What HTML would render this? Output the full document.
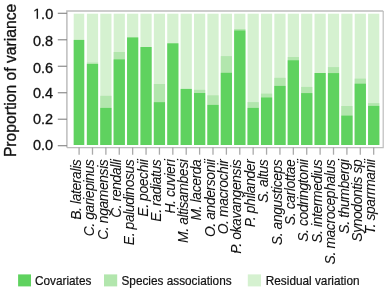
<!DOCTYPE html><html><head><meta charset="utf-8"><style>html,body{margin:0;padding:0;background:#fff;width:387px;height:292px;overflow:hidden}svg{display:block;filter:blur(0.35px)}text{font-family:"Liberation Sans",sans-serif;fill:#111;stroke:#111;stroke-width:0.3px}.xl{stroke-width:0.06px}.lg{stroke-width:0.2px}</style></head><body>
<svg width="387" height="292" viewBox="0 0 387 292">
<rect x="73.70" y="13.7" width="10.549999999999999" height="131.30" fill="#d5f1d0"/>
<rect x="73.70" y="39.9" width="10.549999999999999" height="105.10" fill="#5fd25f"/>
<rect x="86.89" y="13.7" width="11.2" height="131.30" fill="#d5f1d0"/>
<rect x="86.89" y="62.6" width="11.2" height="82.40" fill="#b2e6ad"/>
<rect x="86.89" y="64.0" width="11.2" height="81.00" fill="#5fd25f"/>
<rect x="100.28" y="13.7" width="11.2" height="131.30" fill="#d5f1d0"/>
<rect x="100.28" y="95.8" width="11.2" height="49.20" fill="#b2e6ad"/>
<rect x="100.28" y="107.9" width="11.2" height="37.10" fill="#5fd25f"/>
<rect x="113.67" y="13.7" width="11.2" height="131.30" fill="#d5f1d0"/>
<rect x="113.67" y="52.0" width="11.2" height="93.00" fill="#b2e6ad"/>
<rect x="113.67" y="59.4" width="11.2" height="85.60" fill="#5fd25f"/>
<rect x="127.06" y="13.7" width="11.2" height="131.30" fill="#d5f1d0"/>
<rect x="127.06" y="37.4" width="11.2" height="107.60" fill="#5fd25f"/>
<rect x="140.45" y="13.7" width="11.2" height="131.30" fill="#d5f1d0"/>
<rect x="140.45" y="47.0" width="11.2" height="98.00" fill="#5fd25f"/>
<rect x="153.84" y="13.7" width="11.2" height="131.30" fill="#d5f1d0"/>
<rect x="153.84" y="84.0" width="11.2" height="61.00" fill="#b2e6ad"/>
<rect x="153.84" y="102.2" width="11.2" height="42.80" fill="#5fd25f"/>
<rect x="167.23" y="13.7" width="11.2" height="131.30" fill="#d5f1d0"/>
<rect x="167.23" y="43.3" width="11.2" height="101.70" fill="#5fd25f"/>
<rect x="180.62" y="13.7" width="11.2" height="131.30" fill="#d5f1d0"/>
<rect x="180.62" y="88.9" width="11.2" height="56.10" fill="#5fd25f"/>
<rect x="194.01" y="13.7" width="11.2" height="131.30" fill="#d5f1d0"/>
<rect x="194.01" y="89.8" width="11.2" height="55.20" fill="#b2e6ad"/>
<rect x="194.01" y="93.0" width="11.2" height="52.00" fill="#5fd25f"/>
<rect x="207.40" y="13.7" width="11.2" height="131.30" fill="#d5f1d0"/>
<rect x="207.40" y="95.3" width="11.2" height="49.70" fill="#b2e6ad"/>
<rect x="207.40" y="104.9" width="11.2" height="40.10" fill="#5fd25f"/>
<rect x="220.79" y="13.7" width="11.2" height="131.30" fill="#d5f1d0"/>
<rect x="220.79" y="56.1" width="11.2" height="88.90" fill="#b2e6ad"/>
<rect x="220.79" y="72.8" width="11.2" height="72.20" fill="#5fd25f"/>
<rect x="234.18" y="13.7" width="11.2" height="131.30" fill="#d5f1d0"/>
<rect x="234.18" y="29.0" width="11.2" height="116.00" fill="#b2e6ad"/>
<rect x="234.18" y="30.5" width="11.2" height="114.50" fill="#5fd25f"/>
<rect x="247.57" y="13.7" width="11.2" height="131.30" fill="#d5f1d0"/>
<rect x="247.57" y="102.1" width="11.2" height="42.90" fill="#b2e6ad"/>
<rect x="247.57" y="107.9" width="11.2" height="37.10" fill="#5fd25f"/>
<rect x="260.96" y="13.7" width="11.2" height="131.30" fill="#d5f1d0"/>
<rect x="260.96" y="93.6" width="11.2" height="51.40" fill="#b2e6ad"/>
<rect x="260.96" y="97.5" width="11.2" height="47.50" fill="#5fd25f"/>
<rect x="274.35" y="13.7" width="11.2" height="131.30" fill="#d5f1d0"/>
<rect x="274.35" y="77.8" width="11.2" height="67.20" fill="#b2e6ad"/>
<rect x="274.35" y="85.9" width="11.2" height="59.10" fill="#5fd25f"/>
<rect x="287.74" y="13.7" width="11.2" height="131.30" fill="#d5f1d0"/>
<rect x="287.74" y="57.0" width="11.2" height="88.00" fill="#b2e6ad"/>
<rect x="287.74" y="60.3" width="11.2" height="84.70" fill="#5fd25f"/>
<rect x="301.13" y="13.7" width="11.2" height="131.30" fill="#d5f1d0"/>
<rect x="301.13" y="86.9" width="11.2" height="58.10" fill="#b2e6ad"/>
<rect x="301.13" y="93.1" width="11.2" height="51.90" fill="#5fd25f"/>
<rect x="314.52" y="13.7" width="11.2" height="131.30" fill="#d5f1d0"/>
<rect x="314.52" y="73.0" width="11.2" height="72.00" fill="#5fd25f"/>
<rect x="327.91" y="13.7" width="11.2" height="131.30" fill="#d5f1d0"/>
<rect x="327.91" y="67.1" width="11.2" height="77.90" fill="#b2e6ad"/>
<rect x="327.91" y="73.1" width="11.2" height="71.90" fill="#5fd25f"/>
<rect x="341.30" y="13.7" width="11.2" height="131.30" fill="#d5f1d0"/>
<rect x="341.30" y="106.0" width="11.2" height="39.00" fill="#b2e6ad"/>
<rect x="341.30" y="115.6" width="11.2" height="29.40" fill="#5fd25f"/>
<rect x="354.69" y="13.7" width="11.2" height="131.30" fill="#d5f1d0"/>
<rect x="354.69" y="78.6" width="11.2" height="66.40" fill="#b2e6ad"/>
<rect x="354.69" y="83.7" width="11.2" height="61.30" fill="#5fd25f"/>
<rect x="368.08" y="13.7" width="11.2" height="131.30" fill="#d5f1d0"/>
<rect x="368.08" y="103.1" width="11.2" height="41.90" fill="#b2e6ad"/>
<rect x="368.08" y="105.9" width="11.2" height="39.10" fill="#5fd25f"/>
<path d="M66.9 147.6 V10.9 H383.2" fill="none" stroke="#bdbdbd" stroke-width="1.5"/>
<path d="M383.2 10.9 V147.6 H66.9" fill="none" stroke="#bdbdbd" stroke-width="1.2"/>
<line x1="57.8" y1="145.70" x2="67" y2="145.70" stroke="#8c8c8c" stroke-width="1.2"/>
<text transform="translate(53.2,149.90) scale(1,1.0)" font-size="14.5" text-anchor="end">0.0</text>
<line x1="57.8" y1="119.22" x2="67" y2="119.22" stroke="#8c8c8c" stroke-width="1.2"/>
<text transform="translate(53.2,123.90) scale(1,1.0)" font-size="14.5" text-anchor="end">0.2</text>
<line x1="57.8" y1="92.74" x2="67" y2="92.74" stroke="#8c8c8c" stroke-width="1.2"/>
<text transform="translate(53.2,98.00) scale(1,1.0)" font-size="14.5" text-anchor="end">0.4</text>
<line x1="57.8" y1="66.26" x2="67" y2="66.26" stroke="#8c8c8c" stroke-width="1.2"/>
<text transform="translate(53.2,72.50) scale(1,1.0)" font-size="14.5" text-anchor="end">0.6</text>
<line x1="57.8" y1="39.78" x2="67" y2="39.78" stroke="#8c8c8c" stroke-width="1.2"/>
<text transform="translate(53.2,46.10) scale(1,1.0)" font-size="14.5" text-anchor="end">0.8</text>
<line x1="57.8" y1="13.30" x2="67" y2="13.30" stroke="#8c8c8c" stroke-width="1.2"/>
<path transform="translate(33.045,18.70) scale(0.007080,-0.007080)" d="M515 0 L696 0 L696 1409 L530 1409 L197 1180 L197 1010 L515 1237 Z" fill="#111" stroke="#111" stroke-width="17"/>
<text transform="translate(53.2,18.70) scale(1,1.0)" font-size="14.5" text-anchor="end">.0</text>
<line x1="79.10" y1="147.3" x2="79.10" y2="154.7" stroke="#aaaaaa" stroke-width="1.3"/>
<text transform="translate(80.80,159.6) rotate(-90) scale(1,1.08)" class="xl" font-size="13.8" style="letter-spacing:-0.35px" font-style="italic" text-anchor="end">B. lateralis</text>
<line x1="92.49" y1="147.3" x2="92.49" y2="154.7" stroke="#aaaaaa" stroke-width="1.3"/>
<text transform="translate(94.19,159.6) rotate(-90) scale(1,1.08)" class="xl" font-size="13.8" style="letter-spacing:-0.35px" font-style="italic" text-anchor="end">C. gariepinus</text>
<line x1="105.88" y1="147.3" x2="105.88" y2="154.7" stroke="#aaaaaa" stroke-width="1.3"/>
<text transform="translate(107.58,159.6) rotate(-90) scale(1,1.08)" class="xl" font-size="13.8" style="letter-spacing:-0.35px" font-style="italic" text-anchor="end">C. ngamensis</text>
<line x1="119.27" y1="147.3" x2="119.27" y2="154.7" stroke="#aaaaaa" stroke-width="1.3"/>
<text transform="translate(120.97,159.6) rotate(-90) scale(1,1.08)" class="xl" font-size="13.8" style="letter-spacing:-0.35px" font-style="italic" text-anchor="end">C. rendalli</text>
<line x1="132.66" y1="147.3" x2="132.66" y2="154.7" stroke="#aaaaaa" stroke-width="1.3"/>
<text transform="translate(134.36,159.6) rotate(-90) scale(1,1.08)" class="xl" font-size="13.8" style="letter-spacing:-0.35px" font-style="italic" text-anchor="end">E. paludinosus</text>
<line x1="146.05" y1="147.3" x2="146.05" y2="154.7" stroke="#aaaaaa" stroke-width="1.3"/>
<text transform="translate(147.75,159.6) rotate(-90) scale(1,1.08)" class="xl" font-size="13.8" style="letter-spacing:-0.35px" font-style="italic" text-anchor="end">E. poechii</text>
<line x1="159.44" y1="147.3" x2="159.44" y2="154.7" stroke="#aaaaaa" stroke-width="1.3"/>
<text transform="translate(161.14,159.6) rotate(-90) scale(1,1.08)" class="xl" font-size="13.8" style="letter-spacing:-0.35px" font-style="italic" text-anchor="end">E. radiatus</text>
<line x1="172.83" y1="147.3" x2="172.83" y2="154.7" stroke="#aaaaaa" stroke-width="1.3"/>
<text transform="translate(174.53,159.6) rotate(-90) scale(1,1.08)" class="xl" font-size="13.8" style="letter-spacing:-0.35px" font-style="italic" text-anchor="end">H. cuvieri</text>
<line x1="186.22" y1="147.3" x2="186.22" y2="154.7" stroke="#aaaaaa" stroke-width="1.3"/>
<text transform="translate(187.92,159.6) rotate(-90) scale(1,1.08)" class="xl" font-size="13.8" style="letter-spacing:-0.35px" font-style="italic" text-anchor="end">M. altisambesi</text>
<line x1="199.61" y1="147.3" x2="199.61" y2="154.7" stroke="#aaaaaa" stroke-width="1.3"/>
<text transform="translate(201.31,159.6) rotate(-90) scale(1,1.08)" class="xl" font-size="13.8" style="letter-spacing:-0.35px" font-style="italic" text-anchor="end">M. lacerda</text>
<line x1="213.00" y1="147.3" x2="213.00" y2="154.7" stroke="#aaaaaa" stroke-width="1.3"/>
<text transform="translate(214.70,159.6) rotate(-90) scale(1,1.08)" class="xl" font-size="13.8" style="letter-spacing:-0.35px" font-style="italic" text-anchor="end">O. andersonii</text>
<line x1="226.39" y1="147.3" x2="226.39" y2="154.7" stroke="#aaaaaa" stroke-width="1.3"/>
<text transform="translate(228.09,159.6) rotate(-90) scale(1,1.08)" class="xl" font-size="13.8" style="letter-spacing:-0.35px" font-style="italic" text-anchor="end">O. macrochir</text>
<line x1="239.78" y1="147.3" x2="239.78" y2="154.7" stroke="#aaaaaa" stroke-width="1.3"/>
<text transform="translate(241.48,159.6) rotate(-90) scale(1,1.08)" class="xl" font-size="13.8" style="letter-spacing:-0.35px" font-style="italic" text-anchor="end">P. okavangensis</text>
<line x1="253.17" y1="147.3" x2="253.17" y2="154.7" stroke="#aaaaaa" stroke-width="1.3"/>
<text transform="translate(254.87,159.6) rotate(-90) scale(1,1.08)" class="xl" font-size="13.8" style="letter-spacing:-0.35px" font-style="italic" text-anchor="end">P. philander</text>
<line x1="266.56" y1="147.3" x2="266.56" y2="154.7" stroke="#aaaaaa" stroke-width="1.3"/>
<text transform="translate(268.26,159.6) rotate(-90) scale(1,1.08)" class="xl" font-size="13.8" style="letter-spacing:-0.35px" font-style="italic" text-anchor="end">S. altus</text>
<line x1="279.95" y1="147.3" x2="279.95" y2="154.7" stroke="#aaaaaa" stroke-width="1.3"/>
<text transform="translate(281.65,159.6) rotate(-90) scale(1,1.08)" class="xl" font-size="13.8" style="letter-spacing:-0.35px" font-style="italic" text-anchor="end">S. angusticeps</text>
<line x1="293.34" y1="147.3" x2="293.34" y2="154.7" stroke="#aaaaaa" stroke-width="1.3"/>
<text transform="translate(295.04,159.6) rotate(-90) scale(1,1.08)" class="xl" font-size="13.8" style="letter-spacing:-0.35px" font-style="italic" text-anchor="end">S. carlottae</text>
<line x1="306.73" y1="147.3" x2="306.73" y2="154.7" stroke="#aaaaaa" stroke-width="1.3"/>
<text transform="translate(308.43,159.6) rotate(-90) scale(1,1.08)" class="xl" font-size="13.8" style="letter-spacing:-0.35px" font-style="italic" text-anchor="end">S. codringtonii</text>
<line x1="320.12" y1="147.3" x2="320.12" y2="154.7" stroke="#aaaaaa" stroke-width="1.3"/>
<text transform="translate(321.82,159.6) rotate(-90) scale(1,1.08)" class="xl" font-size="13.8" style="letter-spacing:-0.35px" font-style="italic" text-anchor="end">S. intermedius</text>
<line x1="333.51" y1="147.3" x2="333.51" y2="154.7" stroke="#aaaaaa" stroke-width="1.3"/>
<text transform="translate(335.21,159.6) rotate(-90) scale(1,1.08)" class="xl" font-size="13.8" style="letter-spacing:-0.35px" font-style="italic" text-anchor="end">S. macrocephalus</text>
<line x1="346.90" y1="147.3" x2="346.90" y2="154.7" stroke="#aaaaaa" stroke-width="1.3"/>
<text transform="translate(348.60,159.6) rotate(-90) scale(1,1.08)" class="xl" font-size="13.8" style="letter-spacing:-0.35px" font-style="italic" text-anchor="end">S. thumbergi</text>
<line x1="360.29" y1="147.3" x2="360.29" y2="154.7" stroke="#aaaaaa" stroke-width="1.3"/>
<text transform="translate(361.99,159.6) rotate(-90) scale(1,1.08)" class="xl" font-size="13.8" style="letter-spacing:-0.35px" font-style="italic" text-anchor="end">Synodontis sp</text>
<line x1="373.68" y1="147.3" x2="373.68" y2="154.7" stroke="#aaaaaa" stroke-width="1.3"/>
<text transform="translate(375.38,159.6) rotate(-90) scale(1,1.08)" class="xl" font-size="13.8" style="letter-spacing:-0.35px" font-style="italic" text-anchor="end">T. sparrmanii</text>
<text transform="translate(15.6,157.1) rotate(-90) scale(1,1.06)" font-size="15.7">Proportion of variance</text>
<rect x="18.1" y="274.4" width="12.9" height="12" fill="#5fd25f"/>
<text transform="translate(35,285) scale(1,1.15)" class="lg" font-size="11.8" style="letter-spacing:0px">Covariates</text>
<rect x="104" y="274.4" width="13.2" height="12" fill="#b2e6ad"/>
<text transform="translate(121.5,285) scale(1,1.15)" class="lg" font-size="11.8" style="letter-spacing:0px">Species associations</text>
<rect x="247.8" y="274.4" width="13.2" height="12" fill="#d5f1d0"/>
<text transform="translate(265.8,285) scale(1,1.15)" class="lg" font-size="11.8" style="letter-spacing:0px">Residual variation</text>
</svg></body></html>
